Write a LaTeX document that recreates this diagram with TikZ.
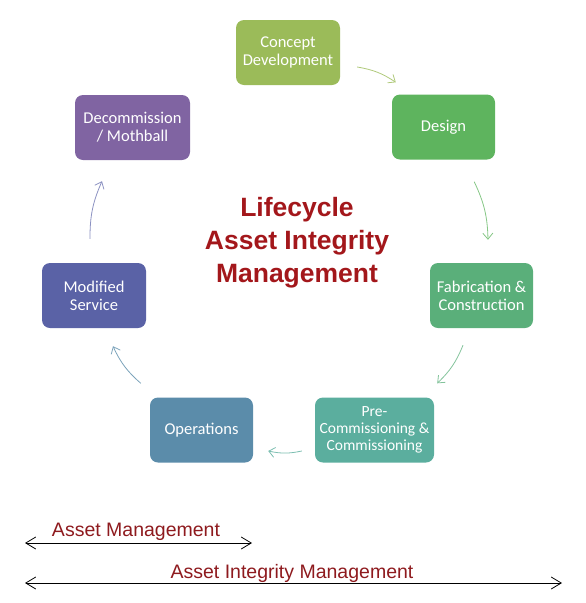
\documentclass[tikz,border=0pt]{standalone}
\usepackage{fontspec}
\setmainfont{Carlito}
\newfontfamily\arialfont{Liberation Sans}
\usetikzlibrary{arrows.meta}
\definecolor{conceptcol}{HTML}{9BBB59}
\definecolor{designcol}{HTML}{5EB45E}
\definecolor{fabcol}{HTML}{5AAF7A}
\definecolor{precol}{HTML}{5BAE9E}
\definecolor{opscol}{HTML}{5B8CAA}
\definecolor{modcol}{HTML}{5A62A6}
\definecolor{decomcol}{HTML}{8064A2}
\definecolor{titlered}{HTML}{A3171B}
\definecolor{labelred}{HTML}{8E1A1E}
\tikzset{
  stage/.style={rounded corners=8pt, text=white, align=center, inner sep=0pt,
    minimum width=104pt, minimum height=65pt, font=\fontsize{16.5}{18}\selectfont},
  cyclearrow/.style={line width=0.8pt, -{Straight Barb[length=6pt,width=10pt]}, bend left=12},
  spanarrow/.style={line width=0.8pt, {Straight Barb[length=10pt,width=12pt]}-{Straight Barb[length=10pt,width=12pt]}},
  spanlabel/.style={text=labelred, font=\arialfont\fontsize{19.5}{22}\selectfont},
}
\begin{document}
\begin{tikzpicture}[x=1pt,y=-1pt]
  \useasboundingbox (0,0) rectangle (586,603); % page size
  % lifecycle stages
  \node[stage, fill=conceptcol] (concept) at (288,52.5) {Concept\\Development};
  \node[stage, fill=designcol, minimum width=103pt] (design) at (443.5,127) {Design};
  \node[stage, fill=fabcol, minimum width=103pt] (fab) at (481.5,295.5) {Fabrication \&\\Construction};
  \node[stage, fill=precol, minimum width=119pt, font=\fontsize{15.5}{17}\selectfont] (precomm) at (374.5,430) {Pre-\\Commissioning \&\\Commissioning};
  \node[stage, fill=opscol, minimum width=103pt] (ops) at (201.5,430) {Operations};
  \node[stage, fill=modcol] (modified) at (94,295.5) {Modified\\Service};
  \node[stage, fill=decomcol, minimum width=115pt] (decomm) at (132.5,127.5) {Decommission\\/ Mothball};
  % title
  \node[text=titlered, align=center, font=\arialfont\bfseries\fontsize{26.5}{33}\selectfont] (title) at (297,243) {Lifecycle\\Asset Integrity\\Management};
  % cycle arrows
  \draw[cyclearrow, conceptcol!80] ([shift={(17,14.5)}]concept.east) to ([shift={(4,-12)}]design.north west);
  \draw[cyclearrow, designcol!75] ([shift={(-21,22)}]design.south east) to ([shift={(6.5,-23)}]fab.north);
  \draw[cyclearrow, fabcol!75] ([shift={(-18.5,17)}]fab.south) to ([shift={(3,-14)}]precomm.north east);
  \draw[cyclearrow, precol!80] ([shift={(-13,21)}]precomm.west) to ([shift={(15,21)}]ops.east);
  \draw[cyclearrow, opscol!80] ([shift={(-9,-14)}]ops.north west) to ([shift={(19,18)}]modified.south);
  \draw[cyclearrow, modcol!70] ([shift={(-4,-24)}]modified.north) to ([shift={(-30.5,21)}]decomm.south);
  % scope arrows
  \coordinate (amleft) at (25,543);
  \coordinate (amright) at (252,543);
  \coordinate (aimleft) at (25,583);
  \coordinate (aimright) at (562,583);
  \draw[spanarrow] (amleft) -- (amright); % asset management
  \node[spanlabel] (amlabel) at (136,531.5) {Asset Management};
  \draw[spanarrow] (aimleft) -- (aimright); % asset integrity management
  \node[spanlabel] (aimlabel) at (292,573.5) {Asset Integrity Management};
\end{tikzpicture}
\end{document}
